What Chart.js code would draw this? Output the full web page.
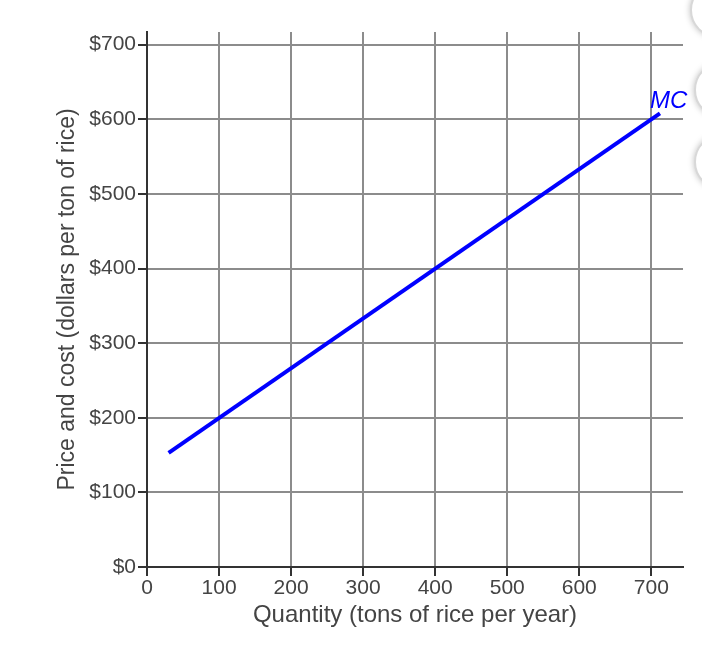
<!DOCTYPE html>
<html>
<head>
<meta charset="utf-8">
<script src="https://cdn.jsdelivr.net/npm/chart.js@4/dist/chart.umd.min.js"></script>
<style>
  body { margin: 0; background: #fff; overflow: hidden; }
  #wrap { position: relative; width: 702px; height: 654px; }
  .knob { position: absolute; width: 52px; height: 52px; border-radius: 50%;
          background: #fff; border: 2px solid #d8d8d8; box-shadow: 0 0 6px rgba(0,0,0,0.25); }
</style>
</head>
<body>
<div id="wrap">
  <canvas id="chart" width="702" height="654"></canvas>
  <div class="knob" style="left:690px; top:-18px;"></div>
  <div class="knob" style="left:694px; top:62px;"></div>
  <div class="knob" style="left:694px; top:134px;"></div>
</div>
<script>
// MC curve endpoints
const mcQuantity = [30, 712];
const mcCost = [153, 608];
const mcLabel = 'MC';

// axis ticks
const xTicks = [0, 100, 200, 300, 400, 500, 600, 700];
const yTicks = [0, 100, 200, 300, 400, 500, 600, 700];

const fontFamily = '"Liberation Sans", Arial, sans-serif';

// draws the "MC" label next to the end of the line
const curveLabel = {
  id: 'curveLabel',
  afterDatasetsDraw(chart) {
    const meta = chart.getDatasetMeta(0);
    const last = meta.data[meta.data.length - 1];
    const ctx = chart.ctx;
    ctx.save();
    ctx.font = 'italic 24px ' + fontFamily;
    ctx.fillStyle = '#0000ff';
    ctx.textAlign = 'left';
    ctx.textBaseline = 'alphabetic';
    ctx.fillText(mcLabel, last.x - 10, last.y - 5);
    ctx.restore();
  }
};

const ctx = document.getElementById('chart').getContext('2d');
const chart = new Chart(ctx, {
  type: 'scatter',
  data: {
    datasets: [{
      label: mcLabel,
      data: mcQuantity.map((q, i) => ({ x: q, y: mcCost[i] })),
      showLine: true,
      borderColor: '#0000ff',
      borderWidth: 4,
      pointRadius: 0,
      borderCapStyle: 'butt'
    }]
  },
  options: {
    responsive: false,
    animation: false,
    layout: { padding: { top: 32, right: 19, left: 50, bottom: 20 } },
    plugins: { legend: { display: false }, tooltip: { enabled: false } },
    scales: {
      x: {
        type: 'linear',
        min: 0,
        max: 744,
        afterBuildTicks: s => { s.ticks = xTicks.map(v => ({ value: v })); },
        afterFit: s => { s.height = 654 - 20 - 567; },
        grid: { color: '#8c8c8c', lineWidth: 2, tickColor: '#333', tickLength: 9 },
        border: { color: '#333', width: 2 },
        ticks: { color: '#444', font: { family: fontFamily, size: 21 }, padding: 0, maxRotation: 0 },
        title: {
          display: true,
          text: 'Quantity (tons of rice per year)',
          color: '#444',
          font: { family: fontFamily, size: 24 },
          padding: { top: 0, bottom: 4 }
        }
      },
      y: {
        type: 'linear',
        min: 0,
        max: 717,
        afterBuildTicks: s => { s.ticks = yTicks.map(v => ({ value: v })); },
        afterFit: s => { s.width = 147 - 50; },
        grid: { color: '#8c8c8c', lineWidth: 2, tickColor: '#333', tickLength: 9 },
        border: { color: '#333', width: 2 },
        ticks: {
          color: '#444',
          font: { family: fontFamily, size: 21 },
          padding: 2,
          callback: v => '$' + v
        },
        title: {
          display: true,
          text: 'Price and cost (dollars per ton of rice)',
          color: '#444',
          font: { family: fontFamily, size: 23 },
          padding: { top: 4, bottom: 0 }
        }
      }
    }
  },
  plugins: [curveLabel]
});
</script>
</body>
</html>
